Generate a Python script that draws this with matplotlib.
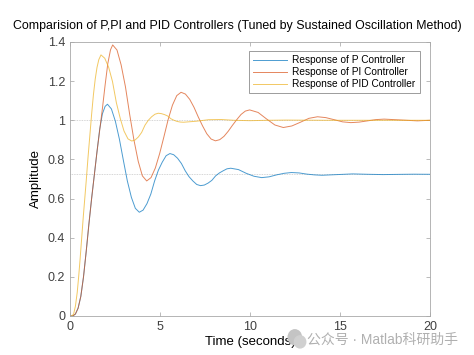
import matplotlib
matplotlib.use("Agg")
import matplotlib.pyplot as plt
from matplotlib.patches import Ellipse

t_p = [0, 0.15, 0.3, 0.45, 0.6, 0.75, 0.9, 1.05, 1.2, 1.35, 1.5, 1.65, 1.8, 1.95, 2.08,
       2.3, 2.52, 2.745, 2.965, 3.185, 3.41, 3.63, 3.85,
       4.06, 4.275, 4.49, 4.7, 4.91, 5.125, 5.34, 5.55,
       5.76, 5.975, 6.19, 6.4, 6.61, 6.825, 7.04, 7.25,
       7.46, 7.67, 7.88, 8.09, 8.3, 8.51, 8.72, 8.93,
       9.36, 9.79, 10.22, 10.65, 11.06, 11.475, 11.89, 12.3,
       12.725, 13.15, 13.575, 14.0, 14.85, 15.7, 16.55, 17.4, 18.25, 19.1, 20]
y_p = [0, 0, 0.01, 0.04, 0.1, 0.2, 0.33, 0.47, 0.6, 0.72, 0.84, 0.955, 1.033, 1.071, 1.082,
       1.058, 0.995, 0.903, 0.795, 0.69, 0.606, 0.55, 0.53,
       0.541, 0.574, 0.623, 0.69, 0.745, 0.786, 0.819, 0.83,
       0.824, 0.806, 0.779, 0.742, 0.712, 0.69, 0.672, 0.666,
       0.669, 0.679, 0.693, 0.716, 0.731, 0.742, 0.752, 0.755,
       0.748, 0.729, 0.714, 0.707, 0.711, 0.721, 0.729, 0.733,
       0.731, 0.725, 0.721, 0.719, 0.7225, 0.726, 0.724, 0.7225, 0.7236, 0.7245, 0.724]

t_pi = [0, 0.15, 0.3, 0.45, 0.6, 0.75, 0.9, 1.05, 1.2, 1.35, 1.5, 1.65, 1.8, 1.95, 2.1, 2.25, 2.37,
        2.61, 2.84, 3.08, 3.315, 3.55, 3.79, 4.02, 4.26,
        4.5, 4.74, 4.98, 5.215, 5.45, 5.69, 5.93, 6.17,
        6.41, 6.65, 6.89, 7.125, 7.36, 7.6, 7.84, 8.08,
        8.32, 8.555, 8.79, 9.03, 9.27, 9.505, 9.74, 9.98,
        10.45, 10.915, 11.38, 11.85, 12.325, 12.8, 13.275, 13.75,
        14.21, 14.675, 15.14, 15.6, 16.06, 16.525, 16.99, 17.45, 18.375, 19.3, 20]
y_pi = [0, 0, 0.01, 0.04, 0.1, 0.2, 0.33, 0.47, 0.6, 0.72, 0.84, 0.95, 1.06, 1.18, 1.29, 1.36, 1.385,
        1.359, 1.283, 1.171, 1.03, 0.9, 0.79, 0.716, 0.69,
        0.707, 0.756, 0.83, 0.915, 1.003, 1.077, 1.126, 1.143,
        1.134, 1.107, 1.066, 1.017, 0.972, 0.931, 0.904, 0.895,
        0.901, 0.918, 0.944, 0.975, 1.004, 1.03, 1.047, 1.053,
        1.04, 1.007, 0.976, 0.963, 0.971, 0.99, 1.01, 1.018,
        1.0136, 1.003, 0.992, 0.988, 0.9906, 0.997, 1.0034, 1.006, 1.0015, 0.997, 1.0]

t_pid = [0, 0.1, 0.2, 0.3, 0.4, 0.48, 0.56, 0.65, 0.74, 0.82, 0.9, 1.0, 1.1, 1.2, 1.3, 1.4, 1.5, 1.6, 1.72,
         1.93, 2.15, 2.36, 2.575, 2.79, 3.0, 3.22, 3.43,
         3.61, 3.8, 3.98, 4.165, 4.35, 4.535, 4.72, 4.9,
         5.075, 5.25, 5.425, 5.6, 5.775, 5.95, 6.125, 6.3,
         7.0, 7.7, 8.4, 9.1, 10, 11, 12, 14, 20]
y_pid = [0, 0, 0.01, 0.05, 0.12, 0.2, 0.29, 0.4, 0.51, 0.6, 0.69, 0.81, 0.92, 1.03, 1.13, 1.21, 1.27, 1.31, 1.334,
         1.317, 1.27, 1.198, 1.09, 1.01, 0.945, 0.905, 0.894,
         0.899, 0.915, 0.938, 0.975, 1.0, 1.018, 1.031, 1.036,
         1.034, 1.029, 1.022, 1.008, 1.0, 0.994, 0.991, 0.99,
         0.995, 1.003, 1.004, 1.0, 0.998, 1.0, 1.001, 1.0, 1.0]

labels = ["Response of P Controller", "Response of PI Controller", "Response of PID Controller"]
colors = ["#0072BD", "#D95319", "#EDB120"]
final_p = 0.724
final_ref = 1.0

plt.rcParams['font.family'] = ['Liberation Sans', 'Noto Sans CJK SC', 'DejaVu Sans']

fig = plt.figure(figsize=(4.74, 3.55), dpi=100)
fig.patch.set_facecolor('white')
ax = fig.add_axes([0.1477, 0.1099, 0.7595, 0.7718])

ax.axhline(final_ref, color='#c8c8c8', lw=0.6, ls=(0, (1, 1)), zorder=1)
ax.axhline(final_p, color='#c8c8c8', lw=0.6, ls=(0, (1, 1)), zorder=1)

ax.plot(t_p, y_p, color=colors[0], lw=0.7, alpha=0.7, label=labels[0])
ax.plot(t_pi, y_pi, color=colors[1], lw=0.7, alpha=0.7, label=labels[1])
ax.plot(t_pid, y_pid, color=colors[2], lw=0.7, alpha=0.7, label=labels[2])

ax.set_xlim(0, 20)
ax.set_ylim(0, 1.4)
ax.set_xticks([0, 5, 10, 15, 20])
ax.set_yticks([0, 0.2, 0.4, 0.6, 0.8, 1.0, 1.2, 1.4])
ax.set_yticklabels(["0", "0.2", "0.4", "0.6", "0.8", "1", "1.2", "1.4"])
ax.tick_params(direction='in', top=True, right=True, length=3, width=0.5,
               colors='#a0a0a0', labelcolor='#404040', labelsize=9)
for s in ax.spines.values():
    s.set_color('#a8a8a8')
    s.set_linewidth(0.6)

ax.set_xlabel("Time (seconds)", fontsize=9.5, labelpad=2)
ax.set_ylabel("Amplitude", fontsize=9.5, labelpad=4)
# title is centred on the figure so the whole line fits
fig.text(0.5, 0.918, "Comparision of P,PI and PID Controllers (Tuned by Sustained Oscillation Method)",
         fontsize=8.95, ha='center', va='baseline')

leg = ax.legend(loc='upper right', bbox_to_anchor=(0.985, 0.985), fontsize=7.3, frameon=True,
                fancybox=False, handlelength=3.4, borderpad=0.4, labelspacing=0.2,
                handletextpad=0.5)
leg.get_frame().set_edgecolor('#707070')
leg.get_frame().set_linewidth(0.6)

# watermark
fig.text(0.648, 0.042, "公众号 · Matlab科研助手", fontsize=10, color='#b0b0b0',
         ha='left', va='center')
fig.patches.append(Ellipse((0.622, 0.05), 0.028, 0.042, transform=fig.transFigure,
                           color='#c4c4c4', zorder=5))
fig.patches.append(Ellipse((0.633, 0.037), 0.024, 0.034, transform=fig.transFigure,
                           color='#d0d0d0', zorder=5))

fig.savefig("out.png", dpi=100)
